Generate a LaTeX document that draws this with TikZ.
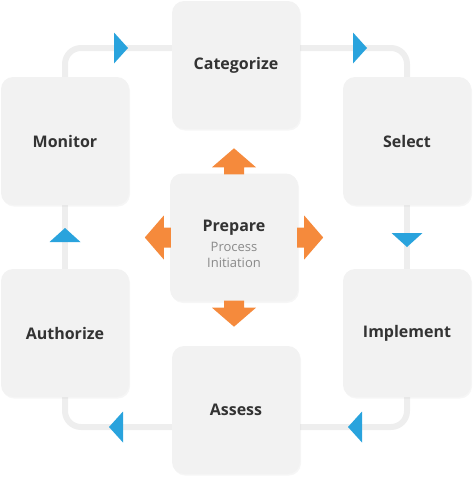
\documentclass[tikz,border=0pt]{standalone}
\usepackage{fontspec}
\setmainfont{Open Sans}
\usetikzlibrary{calc,shadows,backgrounds}
\definecolor{boxfill}{HTML}{F2F2F2}
\definecolor{connc}{HTML}{EEEEEE}
\definecolor{triblue}{HTML}{29A3DD}
\definecolor{orng}{HTML}{F58A3C}
\definecolor{txtdark}{HTML}{333333}
\definecolor{txtgray}{HTML}{8A8A8A}
\begin{document}
\begin{tikzpicture}[x=1pt,y=-1pt,
  box/.style={rounded corners=12pt, fill=boxfill, minimum width=128pt, minimum height=128pt,
    inner sep=0pt, text=txtdark, font=\fontsize{16}{19}\selectfont\bfseries,
    drop shadow={opacity=0.07, shadow xshift=1pt, shadow yshift=-1.5pt}},
  conn/.style={draw=connc, line width=6pt, rounded corners=16pt},
  tri/.pic={\fill[triblue] (0,0) -- (-14,-15.5) -- (-14,15.5) -- cycle;},
  oarrow/.pic={\fill[orng] (-1,-10) -- (6,-10) -- (6,-22) -- (25,0) -- (6,22) -- (6,10) -- (-1,10) -- cycle;},
  lbl/.style={anchor=base, inner sep=0pt}
]
\useasboundingbox (0,0) rectangle (474,477);
% nodes
\node[box] (cat) at (236,65) {Categorize};
\node[box] (mon) at (65,141) {Monitor};
\node[box] (sel) at (407,141) {Select};
\node[box] (aut) at (65,333) {Authorize};
\node[box] (imp) at (407,333) {Implement};
\node[box] (ass) at (236,410) {Assess};
% connector points
\coordinate (catW) at ([yshift=17pt]cat.west);
\coordinate (catE) at ([yshift=17pt]cat.east);
\coordinate (assW) at ([yshift=-17pt]ass.west);
\coordinate (assE) at ([yshift=-17pt]ass.east);
% connectors (behind boxes)
\begin{scope}[on background layer]
\draw[conn] (mon.north) |- (catW);
\draw[conn] (catE) -| (sel.north);
\draw[conn] (sel.south) -- (imp.north);
\draw[conn] (imp.south) |- (assE);
\draw[conn] (assW) -| (aut.south);
\draw[conn] (aut.north) -- (mon.south);
\end{scope}
% center
\node[box] (prep) at (234,237.5) {};
\node[lbl, text=txtdark, font=\fontsize{16}{19}\selectfont\bfseries] (prept) at (234,231) {Prepare};
\node[lbl, text=txtgray, font=\fontsize{13}{16}\selectfont] (proc) at (234,251.5) {Process};
\node[lbl, text=txtgray, font=\fontsize{13}{16}\selectfont] (init) at (234,267.5) {Initiation};
% orange arrows
\pic[rotate=90] at (prep.north) {oarrow};
\pic[rotate=-90] at (prep.south) {oarrow};
\pic[rotate=180] at (prep.west) {oarrow};
\pic at (prep.east) {oarrow};
% blue triangles
\pic at (128,48) {tri};
\pic at (367,48) {tri};
\pic[rotate=-90] at (407,247) {tri};
\pic[rotate=180] at (348,427) {tri};
\pic[rotate=180] at (109,427) {tri};
\pic[rotate=90] at (65,228) {tri};
\end{tikzpicture}
\end{document}
